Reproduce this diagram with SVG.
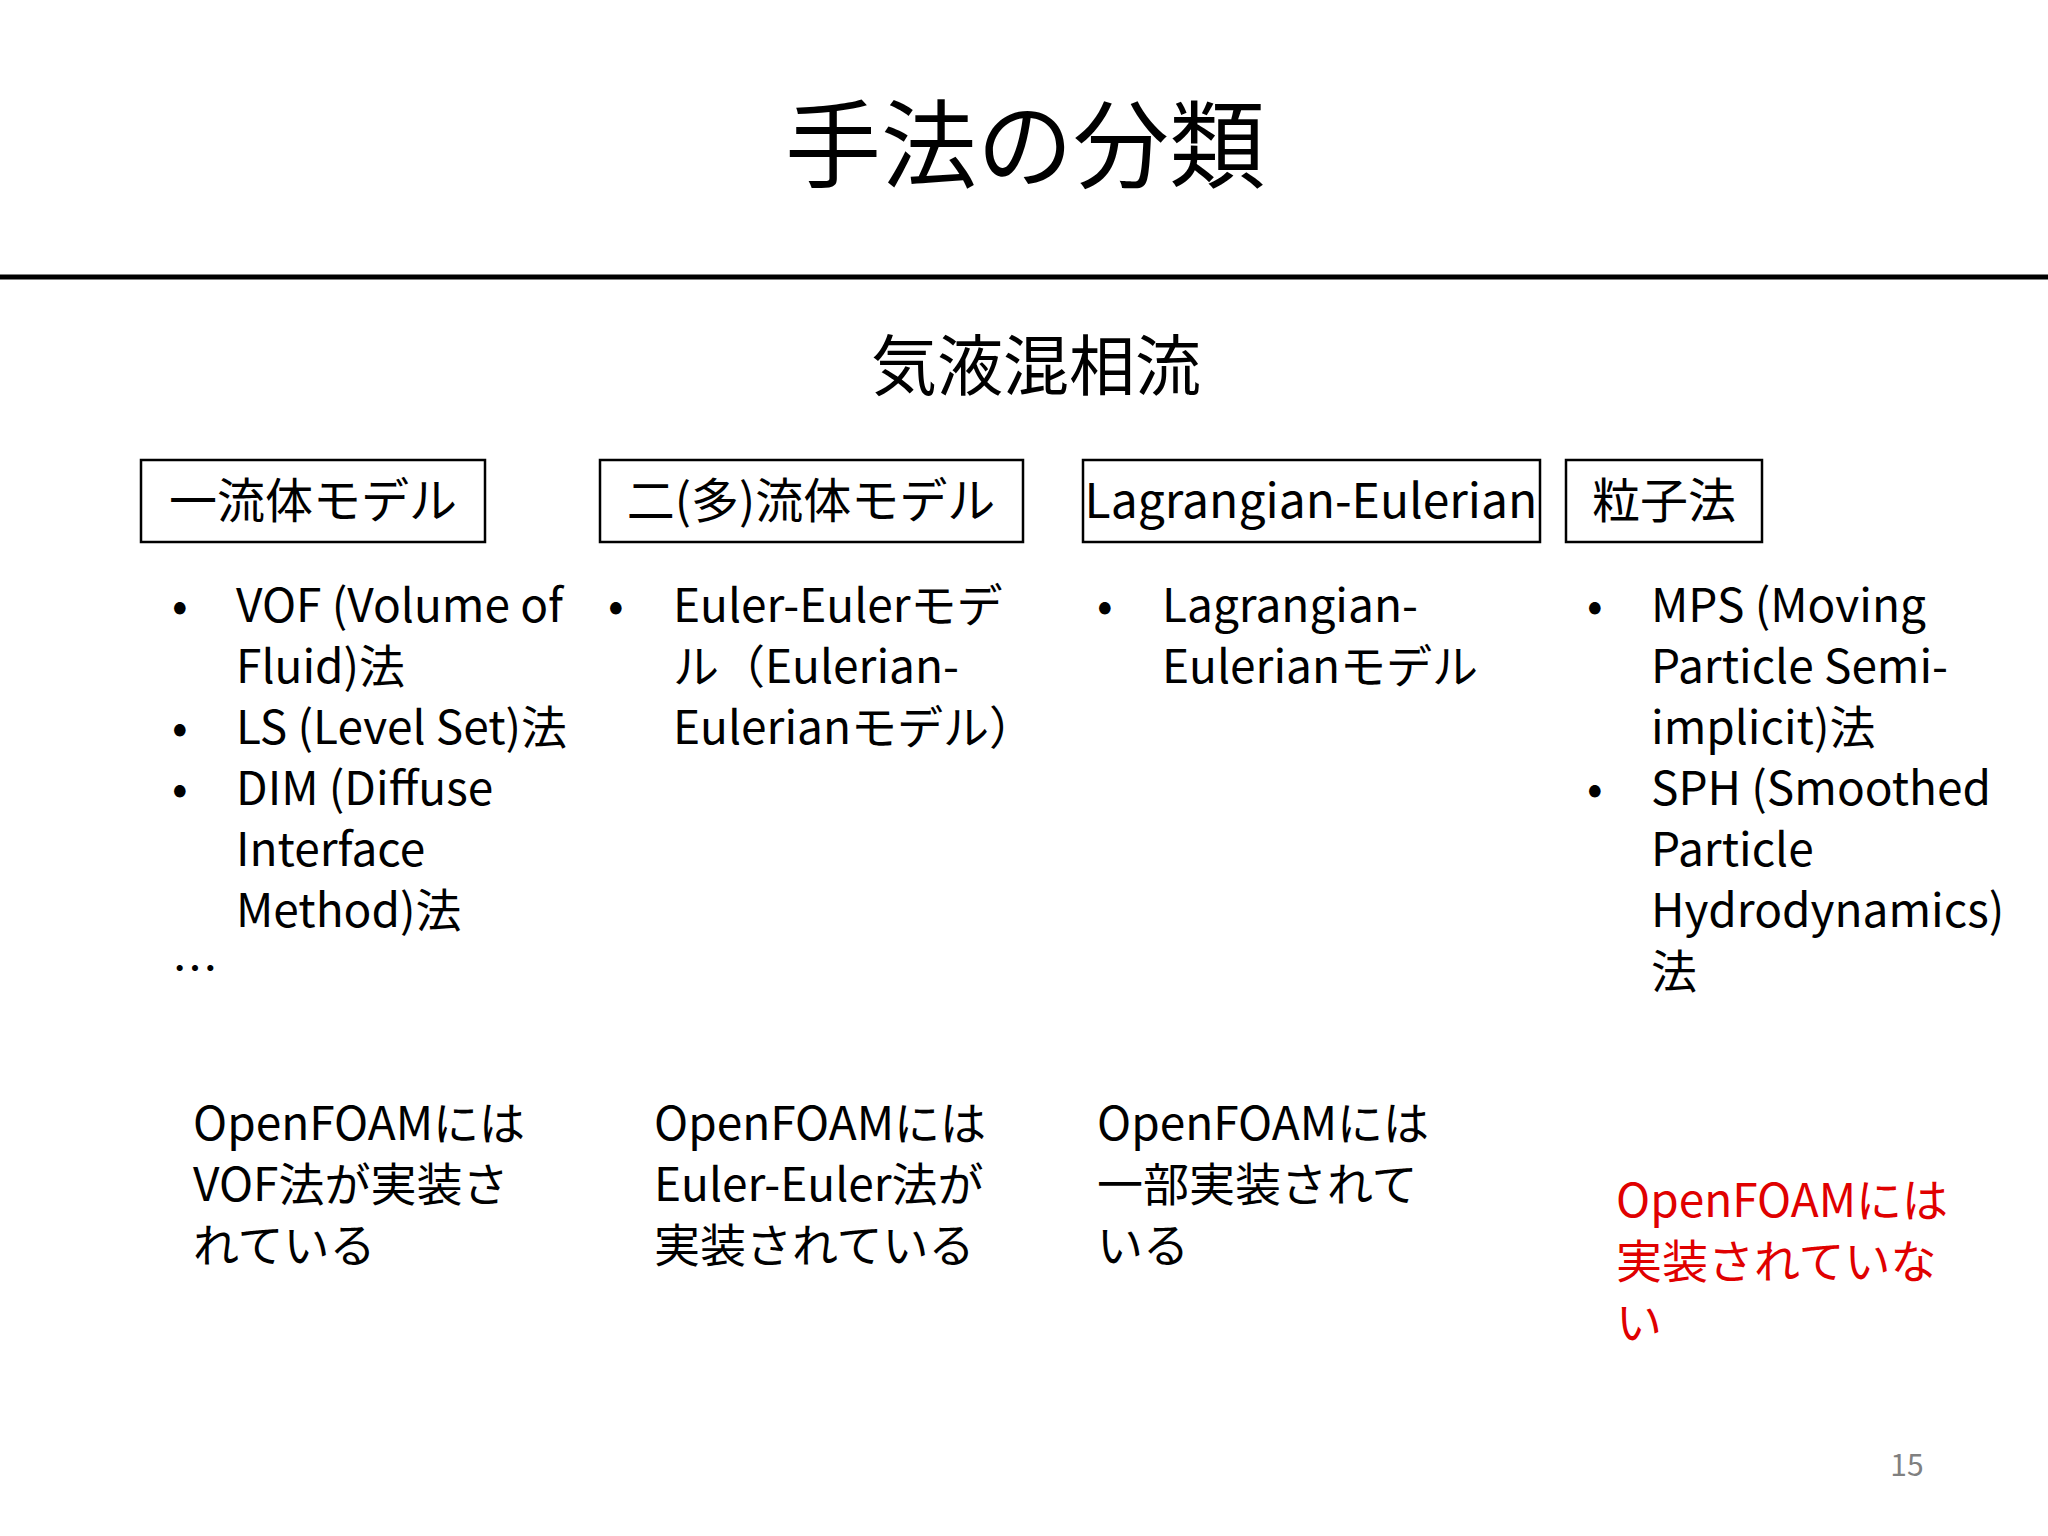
<svg xmlns="http://www.w3.org/2000/svg" width="2048" height="1536" viewBox="0 0 2048 1536">
<style>
text{font-family:"Noto Sans CJK JP","Noto Sans",sans-serif;fill:#000}
.h{font-size:48px}
.b{font-size:46px}
.r{fill:#e00000}
rect{fill:#fff;stroke:#000;stroke-width:2.5}
</style>
<rect x="0" y="0" width="2048" height="1536" style="stroke:none"/>
<text x="1025" y="180" font-size="96" text-anchor="middle">手法の分類</text>
<line x1="0" y1="277" x2="2048" y2="277" stroke="#000" stroke-width="5"/>
<text x="1036" y="390" font-size="66" text-anchor="middle">気液混相流</text>
<g id="n1"><rect x="141" y="460" width="344" height="82"/><text class="h" x="313" y="518" text-anchor="middle">一流体モデル</text></g>
<g id="n2"><rect x="600" y="460" width="423" height="82"/><text class="h" x="811" y="518" text-anchor="middle">二(多)流体モデル</text></g>
<g id="n3"><rect x="1083" y="460" width="457" height="82"/><text class="h" x="1311" y="518" text-anchor="middle">Lagrangian-Eulerian</text></g>
<g id="n4"><rect x="1566" y="460" width="196" height="82"/><text class="h" x="1664" y="518" text-anchor="middle">粒子法</text></g>
<g id="c1" class="b">
<text x="172" y="622">•</text><text x="236" y="622">VOF (Volume of</text><text x="236" y="683">Fluid)法</text>
<text x="172" y="744">•</text><text x="236" y="744">LS (Level Set)法</text>
<text x="172" y="805">•</text><text x="236" y="805">DIM (Diffuse</text><text x="236" y="866">Interface</text><text x="236" y="927">Method)法</text>
<text x="172" y="985">…</text>
</g>
<g id="c2" class="b">
<text x="608" y="622">•</text><text x="673" y="622">Euler-Eulerモデ</text><text x="673" y="683">ル（Eulerian-</text><text x="673" y="744">Eulerianモデル）</text>
</g>
<g id="c3" class="b">
<text x="1097" y="622">•</text><text x="1162" y="622">Lagrangian-</text><text x="1162" y="683">Eulerianモデル</text>
</g>
<g id="c4" class="b">
<text x="1587" y="622">•</text><text x="1651" y="622">MPS (Moving</text><text x="1651" y="683">Particle Semi-</text><text x="1651" y="744">implicit)法</text>
<text x="1587" y="805">•</text><text x="1651" y="805">SPH (Smoothed</text><text x="1651" y="866">Particle</text><text x="1651" y="927">Hydrodynamics)</text><text x="1651" y="988">法</text>
</g>
<g id="bottom" class="b">
<text x="193" y="1140">OpenFOAMには</text><text x="193" y="1201">VOF法が実装さ</text><text x="193" y="1262">れている</text>
<text x="654" y="1140">OpenFOAMには</text><text x="654" y="1201">Euler-Euler法が</text><text x="654" y="1262">実装されている</text>
<text x="1097" y="1140">OpenFOAMには</text><text x="1097" y="1201">一部実装されて</text><text x="1097" y="1262">いる</text>
<text class="r" x="1616" y="1217">OpenFOAMには</text><text class="r" x="1616" y="1278">実装されていな</text><text class="r" x="1616" y="1339">い</text>
</g>
<text x="1907" y="1476" font-size="30" text-anchor="middle" style="fill:#808080">15</text>
<g id="connectors"/>
</svg>
